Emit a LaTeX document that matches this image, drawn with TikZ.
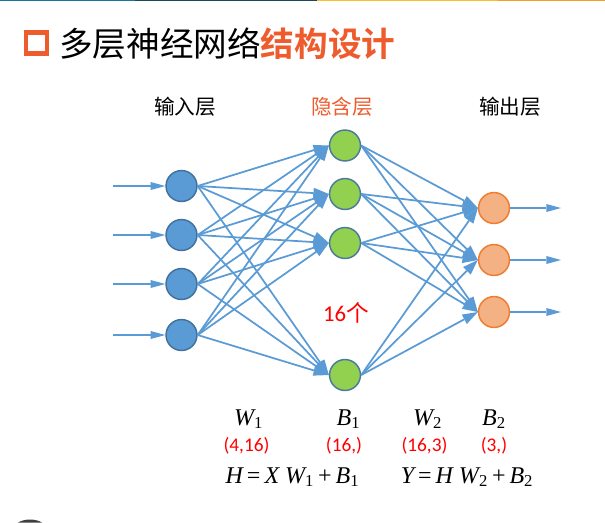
\documentclass[tikz,border=0pt]{standalone}
\usepackage{fontspec}
\setmainfont{Liberation Serif}
\newfontfamily\cjk{Noto Sans CJK SC}
\newfontfamily\cjkb{Noto Sans CJK SC Bold}
\newfontfamily\lat{Carlito}
\definecolor{linkblue}{HTML}{5B9BD5}
\definecolor{inblue}{HTML}{5B9BD5}
\definecolor{inedge}{HTML}{41719C}
\definecolor{hgreen}{HTML}{92D050}
\definecolor{hedge}{HTML}{4A7A9C}
\definecolor{opeach}{HTML}{F4B183}
\definecolor{oedge}{HTML}{ED7D31}
\definecolor{accent}{HTML}{EE5C2D}
\usetikzlibrary{arrows.meta}
\tikzset{
 x=0.75pt,y=-0.75pt,
 neuron/.style={circle,minimum size=23.2pt,inner sep=0pt,line width=1.1pt},
 inn/.style={neuron,draw=inedge,fill=inblue},
 hid/.style={neuron,draw=hedge,fill=hgreen},
 outn/.style={neuron,draw=oedge,fill=opeach},
 link/.style={draw=linkblue,line width=1.3pt,-{Triangle[length=11.5pt,width=8pt,line width=0pt,fill=linkblue]}},
 iolink/.style={draw=linkblue,line width=1.4pt,-{Triangle[length=11pt,width=6pt,line width=0pt,fill=linkblue]}},
 lab/.style={font=\cjk\fontsize{15.5}{17}\selectfont,inner sep=0pt,anchor=center},
 redt/.style={text=red,font=\lat\fontsize{14.5}{16}\selectfont,inner sep=0pt,anchor=center},
 eqn/.style={font=\fontsize{18}{20}\selectfont\itshape,inner sep=0pt,anchor=center},
}
\newcommand{\sbs}[1]{\textsubscript{\normalfont\fontsize{12.5}{13}\selectfont #1}}
\begin{document}
\begin{tikzpicture}
\useasboundingbox (0,0) rectangle (605,522);
\fill[white] (0,0) rectangle (605,522);
% top rule
\fill[color={rgb,255:red,22;green,120;blue,160}] (0,0) rectangle (135,1.2);
\fill[color={rgb,255:red,27;green,73;blue,90}] (135,0) rectangle (317,1.2);
\fill[color={rgb,255:red,251;green,190;blue,45}] (317,0) rectangle (498,1.2);
\fill[color={rgb,255:red,244;green,160;blue,40}] (498,0) rectangle (605,1.2);
% title
\node[draw=accent,line width=3.4pt,minimum size=15.5pt,inner sep=0pt] (bullet) at (36.5,43) {};
\node[font=\cjk\fontsize{25.2}{28}\selectfont,inner sep=0pt,anchor=west] (title) at (59,44)
 {多层神经网络\textcolor{accent}{\cjkb 结构设计}};
% layer labels
\node[lab] (linp) at (185,106.5) {输入层};
\node[lab,text=accent] (lhid) at (342,106.5) {隐含层};
\node[lab] (lout) at (510,106.5) {输出层};
% neurons
\node[inn] (i1) at (181.5,186) {};
\node[inn] (i2) at (181.5,235) {};
\node[inn] (i3) at (181.5,284) {};
\node[inn] (i4) at (181.5,335) {};
\node[hid] (h1) at (345,145.5) {};
\node[hid] (h2) at (345,194) {};
\node[hid] (h3) at (345,243) {};
\node[hid] (h4) at (345,375) {};
\node[outn] (o1) at (494,208) {};
\node[outn] (o2) at (494,260) {};
\node[outn] (o3) at (494,312) {};
% free ends
\coordinate (s1) at (113,186);
\coordinate (s2) at (113,235);
\coordinate (s3) at (113,284);
\coordinate (s4) at (113,335);
\coordinate (e1) at (561,208);
\coordinate (e2) at (561,260);
\coordinate (e3) at (561,312);
\foreach \k in {1,2,3,4} \draw[iolink] (s\k) -- (i\k.west);
\foreach \k in {1,2,3} \draw[iolink] (o\k.east) -- (e\k);
\foreach \a in {1,2,3,4} \foreach \b in {1,2,3,4}
  \draw[link] (i\a.east) -- (h\b.west);
\foreach \a in {1,2,3,4} \foreach \b in {1,2,3}
  \draw[link] (h\a.east) -- (o\b.west);
% texts
\node[text=red,font=\lat\fontsize{17}{19}\selectfont,inner sep=0pt] (n16) at (346,312.5) {16{\cjk 个}};
\node[eqn] (w1) at (248.5,419) {W\sbs{1}};
\node[eqn] (b1) at (348.5,419) {B\sbs{1}};
\node[eqn] (w2) at (427.5,419) {W\sbs{2}};
\node[eqn] (b2) at (494,419) {B\sbs{2}};
\node[redt] (d1) at (246.5,445.5) {(4,16)};
\node[redt] (d2) at (344,445.5) {(16,)};
\node[redt] (d3) at (424.5,445.5) {(16,3)};
\node[redt] (d4) at (494,445.5) {(3,)};
\node[eqn] (f1) at (292.5,477) {H\,{\normalfont =}\,X W\sbs{1}\,{\normalfont +}\,B\sbs{1}};
\node[eqn] (f2) at (467,477) {Y\,{\normalfont =}\,H W\sbs{2}\,{\normalfont +}\,B\sbs{2}};
% cropped logo sliver at the lower edge
\fill[black!75] (18,522.5) .. controls (25,518.5) and (35,518.5) .. (42,522.5) -- cycle;
\end{tikzpicture}
\end{document}
